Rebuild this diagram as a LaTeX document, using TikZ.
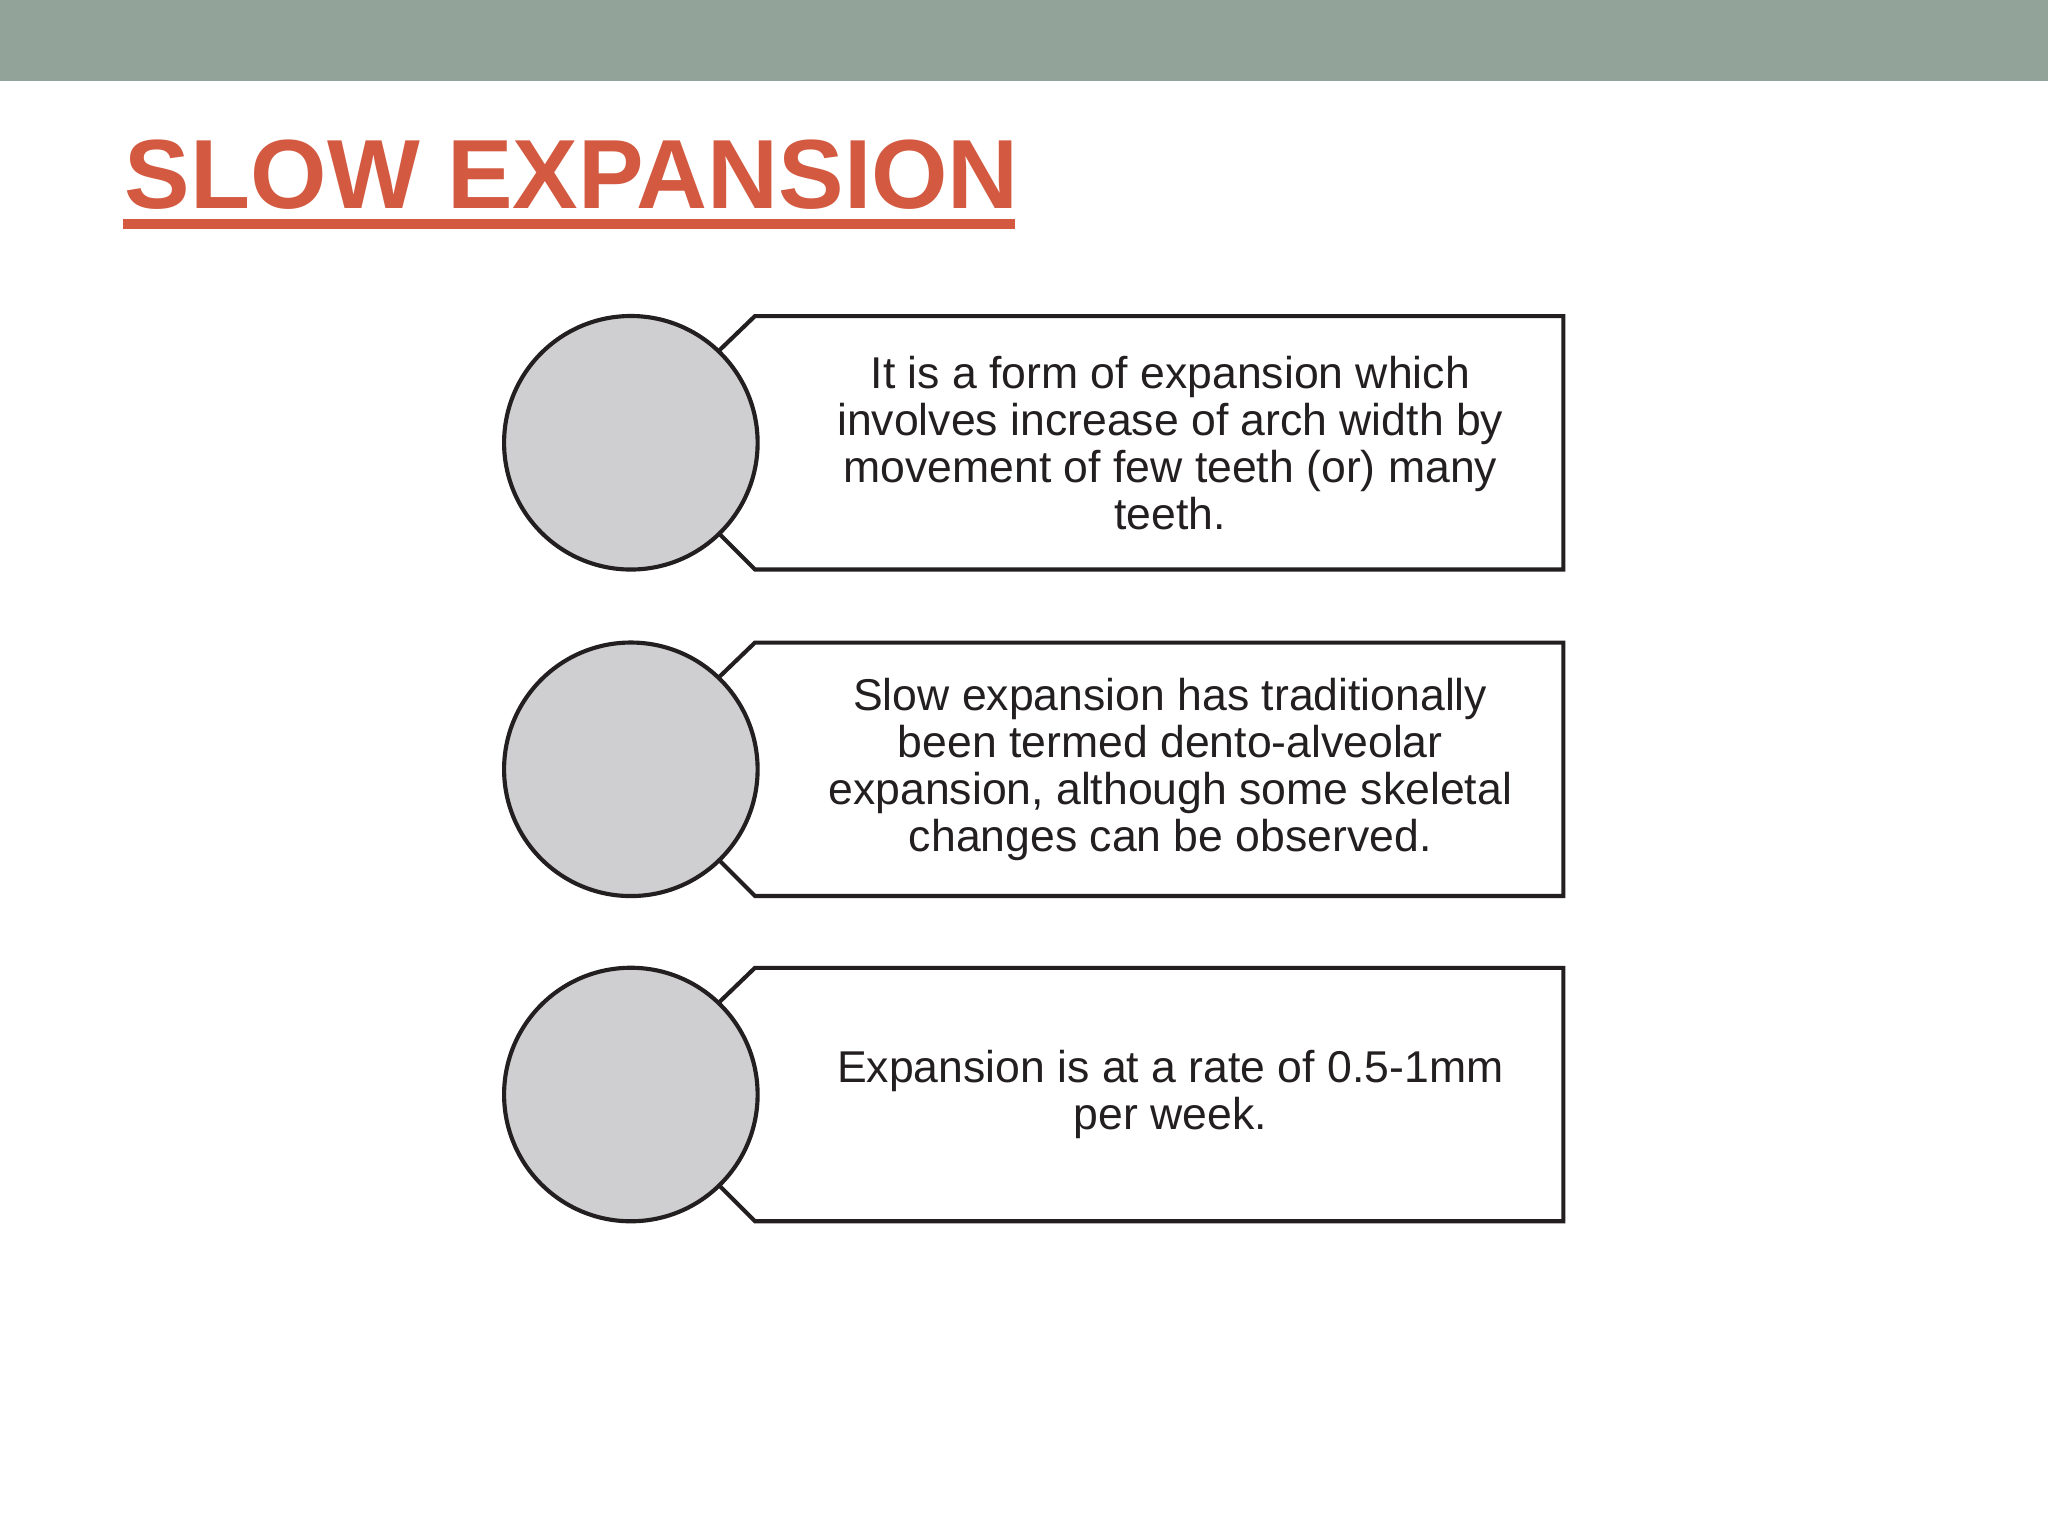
\documentclass[tikz,border=0pt]{standalone}
\usepackage{fontspec}
\setmainfont{Liberation Sans}
\definecolor{band}{HTML}{92A39A}
\definecolor{titlec}{HTML}{D35940}
\definecolor{circf}{HTML}{CFCED0}
\definecolor{edge}{HTML}{231F20}
\tikzset{
  circ/.style={draw=edge,fill=circf,line width=0.9pt},
  panel/.style={draw=edge,fill=white,line width=0.9pt,line join=miter},
  ptext/.style={align=center,text=edge,font=\fontsize{9.7}{10.25}\selectfont}
}
\begin{document}
\begin{tikzpicture}[x=0.01cm,y=-0.01cm]
\fill[white] (0,0) rectangle (1568,1176);
\useasboundingbox (0,0) rectangle (1568,1176);
\fill[band] (0,0) rectangle (1568,62);
\node[anchor=base west,inner sep=0,text=titlec,font=\fontsize{21.4}{26}\selectfont\bfseries] (title) at (95,160) {SLOW EXPANSION};
\fill[titlec] (94,168) rectangle (777,175);
\foreach \dy/\t [count=\i] in {0/{It is a form of expansion which\\involves increase of arch width by\\movement of few teeth (or) many\\teeth.},250/{Slow expansion has traditionally\\been termed dento-alveolar\\expansion, although some skeletal\\changes can be observed.},499/{Expansion is at a rate of 0.5-1mm\\per week.}}{
  \draw[panel] (551,268+\dy) -- (578,242+\dy) -- (1197,242+\dy) -- (1197,436+\dy) -- (578,436+\dy) -- (551,409+\dy);
  \node[circ,circle,minimum size=1.94cm,inner sep=0] (c\i) at (483,339+\dy) {};
  \node[ptext] (t\i) at (896,339+\dy) {\t};
}
\end{tikzpicture}
\end{document}
